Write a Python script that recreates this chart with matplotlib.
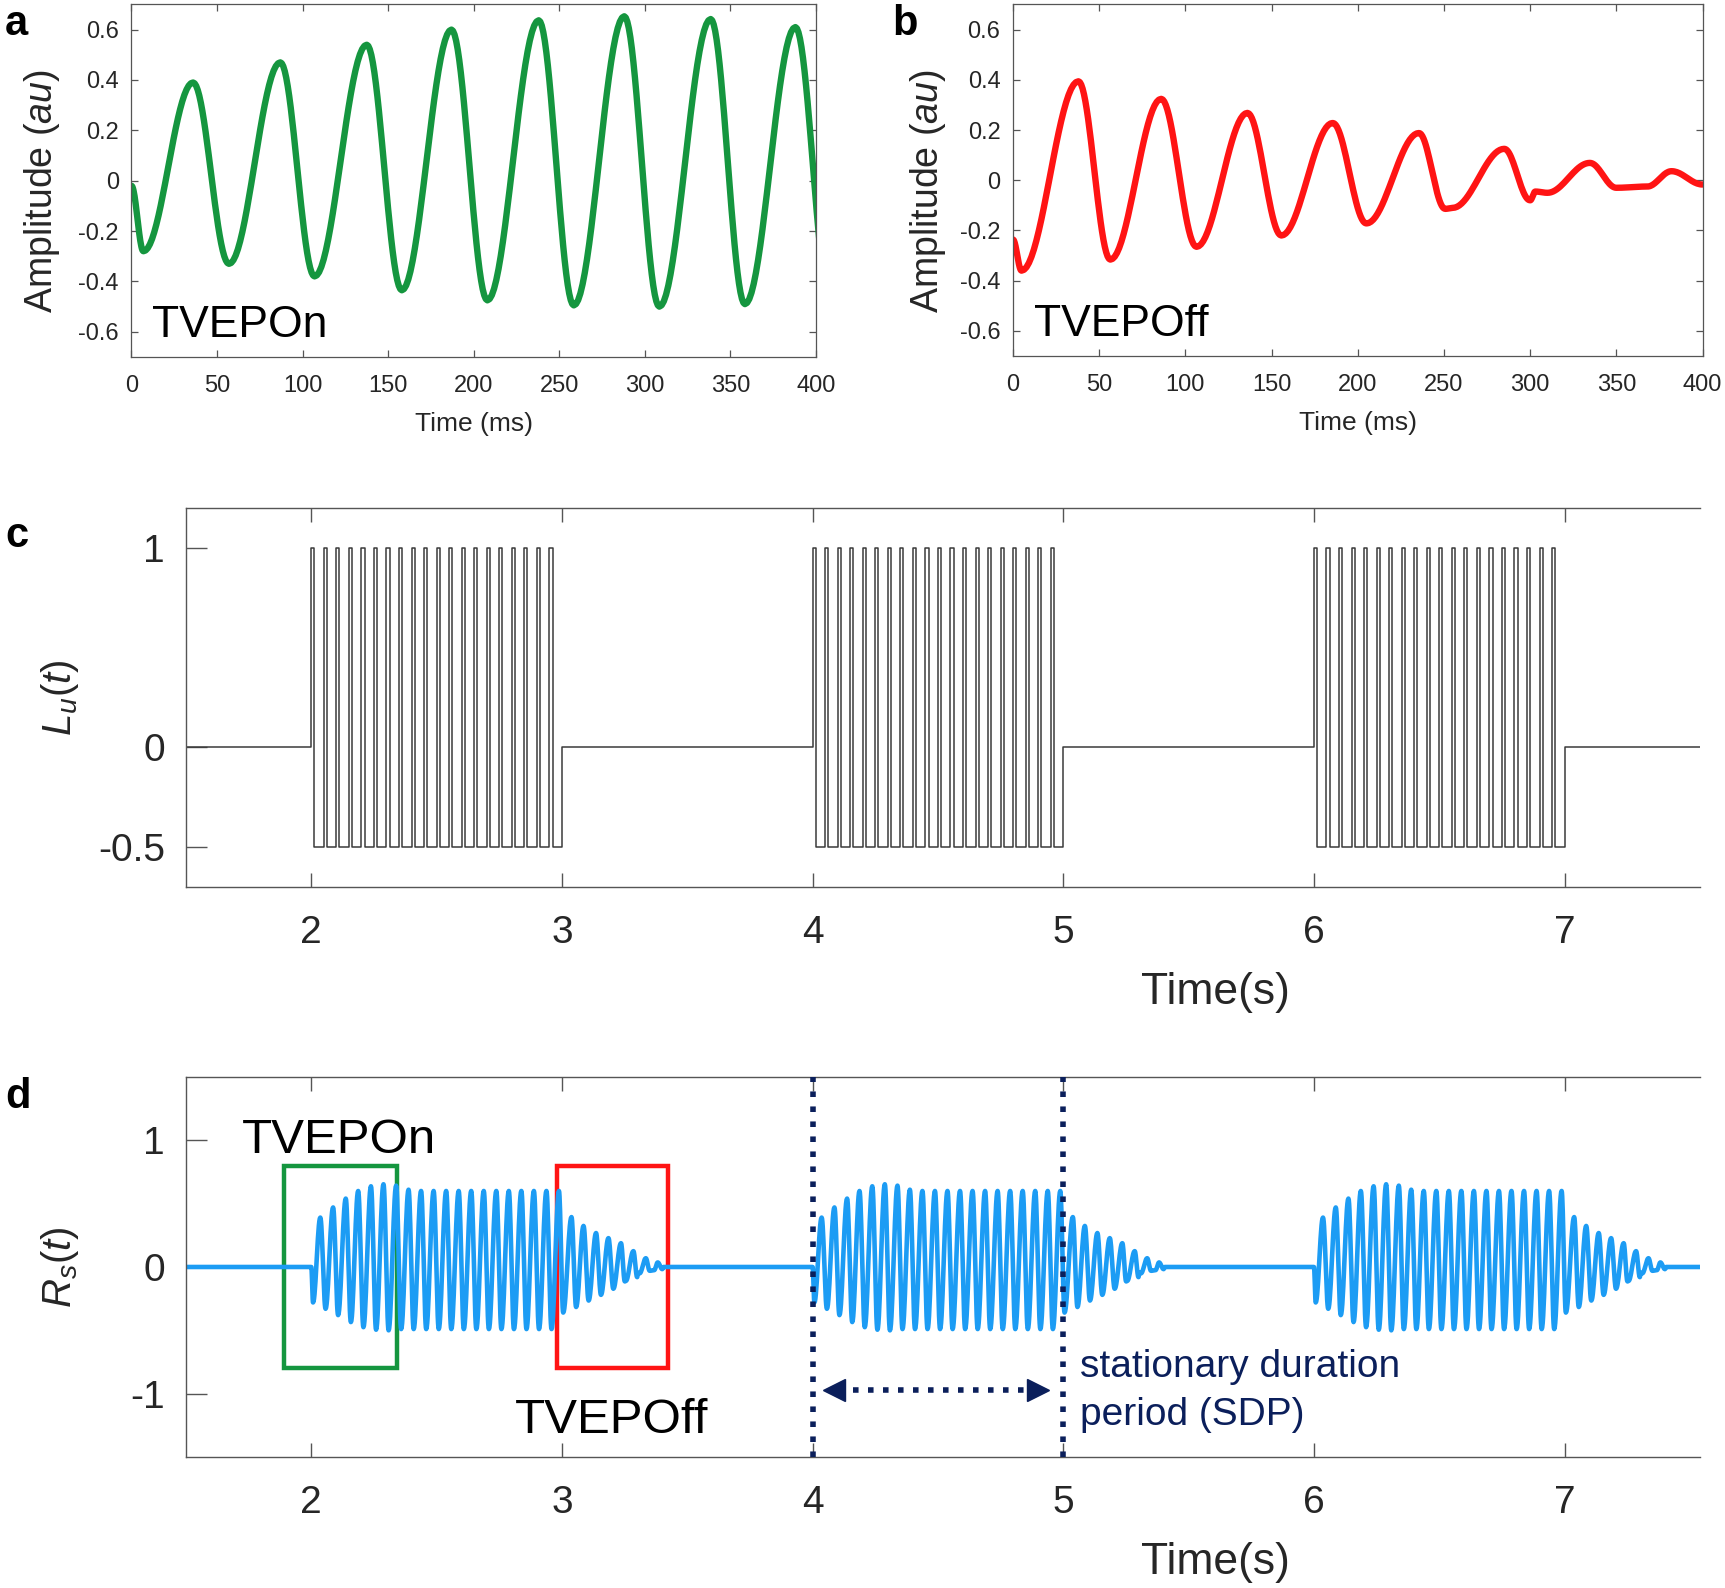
import numpy as np
import matplotlib
matplotlib.use("Agg")
import matplotlib.pyplot as plt
from matplotlib.patches import Rectangle

plt.rcParams["font.family"] = ["Liberation Sans", "DejaVu Sans"]
plt.rcParams["axes.unicode_minus"] = False
plt.rcParams["mathtext.fontset"] = "custom"
plt.rcParams["mathtext.rm"] = "Liberation Sans"
plt.rcParams["mathtext.it"] = "Liberation Sans:italic"

# ---- data ----
# TVEPOn: extrema (ms after flicker onset) and amplitudes
ON_T_MS = [0, 7, 36, 57, 87, 107, 137.5, 158, 187, 208, 238, 258.5, 288, 308.5, 338.5, 358.5, 388]
ON_AMP = [-0.02, -0.28, 0.39, -0.33, 0.47, -0.38, 0.54, -0.435, 0.60, -0.475, 0.637, -0.495, 0.653, -0.50, 0.642, -0.49, 0.61]

# stationary part of the response (ms after flicker onset)
STEADY_T_MS = [408.5, 438, 458.5, 488, 508.5, 538, 558.5, 588, 608.5, 638, 658.5, 688,
               708.5, 738, 758.5, 788, 808.5, 838, 858.5, 888, 908.5, 938, 958.5, 988]
STEADY_AMP = [-0.49, 0.60, -0.49, 0.60, -0.49, 0.60, -0.49, 0.60, -0.49, 0.60, -0.49, 0.60,
              -0.49, 0.60, -0.49, 0.60, -0.49, 0.60, -0.49, 0.60, -0.49, 0.60, -0.49, 0.60]

# TVEPOff: extrema (ms after flicker offset) and amplitudes
OFF_T_MS = [0, 5, 38, 56.5, 86, 106.5, 136, 155.7, 185.5, 205, 235.5, 250.7, 255, 285,
            300, 303, 310, 334.6, 350, 368, 382, 400]
OFF_AMP = [-0.236, -0.36, 0.394, -0.316, 0.324, -0.265, 0.268, -0.22, 0.228, -0.172, 0.188,
           -0.114, -0.11, 0.125, -0.08, -0.045, -0.05, 0.069, -0.03, -0.025, 0.036, -0.017]

# flicker stimulus
BLOCK_STARTS = [2, 4, 6]
BLOCK_DUR = 1.0
FLICKER_HZ = 20
HIGH_FRACTION = 0.25
LEVEL_HIGH, LEVEL_LOW, LEVEL_REST = 1.0, -0.5, 0.0
T_RANGE = (1.5, 7.54)

GREEN = "#15963F"
RED = "#FF1414"
BLUE = "#1C9CF4"
NAVY = "#0B1F5B"
GRAY = "#262626"
SPINE = "#555555"


def cosine_path(t, v, n=24):
    """Join successive extrema with half-cosine arcs."""
    xs, ys = [t[0]], [v[0]]
    u = np.linspace(0, 1, n)[1:]
    for i in range(len(t) - 1):
        xs.extend(t[i] + (t[i + 1] - t[i]) * u)
        ys.extend(v[i] + (v[i + 1] - v[i]) * (1 - np.cos(np.pi * u)) / 2)
    return np.array(xs), np.array(ys)


fig = plt.figure(figsize=(17.25, 15.88), dpi=100)

ax_a = fig.add_axes([0.0762, 0.7752, 0.3968, 0.2220])
ax_b = fig.add_axes([0.5872, 0.7758, 0.3998, 0.2214])
ax_c = fig.add_axes([0.1078, 0.4414, 0.8777, 0.2387])
ax_d = fig.add_axes([0.1078, 0.0825, 0.8777, 0.2393])

# ---- panels a, b ----
ya_ticks = [-0.6, -0.4, -0.2, 0, 0.2, 0.4, 0.6]
ya_labels = ["-0.6", "-0.4", "-0.2", "0", "0.2", "0.4", "0.6"]
x_ms_ticks = [0, 50, 100, 150, 200, 250, 300, 350, 400]

ta, va = cosine_path(ON_T_MS + STEADY_T_MS[:1], ON_AMP + STEADY_AMP[:1])
ax_a.plot(ta, va, color=GREEN, lw=4.6, solid_capstyle="round")
tb, vb = cosine_path(OFF_T_MS, OFF_AMP)
ax_b.plot(tb, vb, color=RED, lw=4.6, solid_capstyle="round")

for ax, name in [(ax_a, "TVEPOn"), (ax_b, "TVEPOff")]:
    ax.set_xlim(0, 400)
    ax.set_ylim(-0.7, 0.7)
    ax.set_xticks(x_ms_ticks)
    ax.set_yticks(ya_ticks)
    ax.set_yticklabels(ya_labels)
    ax.tick_params(direction="in", length=5, width=0.9, color=SPINE, labelsize=17,
                   labelcolor=GRAY, top=True, right=True)
    ax.tick_params(axis="x", pad=13)
    ax.tick_params(axis="y", pad=9)
    for sp in ax.spines.values():
        sp.set_color(SPINE)
        sp.set_linewidth(0.9)
    ax.set_xlabel("Time (ms)", fontsize=19, color=GRAY)
    ax.xaxis.set_label_coords(0.5, -0.155)
    ax.set_ylabel(r"Amplitude ($\mathit{au}$)", fontsize=27, color=GRAY)
    ax.text(12, -0.62, name, fontsize=32, color="black", va="baseline")

ax_a.yaxis.set_label_coords(-0.101, 0.47)
ax_b.yaxis.set_label_coords(-0.094, 0.47)

# ---- panel c: flicker stimulus ----
period = 1.0 / FLICKER_HZ
n_cycles = int(round(BLOCK_DUR * FLICKER_HZ))
stim_t, stim_v = [T_RANGE[0]], [LEVEL_REST]
for s in BLOCK_STARTS:
    stim_t.append(s)
    stim_v.append(LEVEL_REST)
    for k in range(n_cycles):
        a = s + k * period
        b = a + period * HIGH_FRACTION
        c = a + period
        stim_t += [a, b, b, c]
        stim_v += [LEVEL_HIGH, LEVEL_HIGH, LEVEL_LOW, LEVEL_LOW]
    stim_t.append(s + BLOCK_DUR)
    stim_v.append(LEVEL_REST)
stim_t.append(T_RANGE[1])
stim_v.append(LEVEL_REST)
ax_c.plot(stim_t, stim_v, color="#3a3a3a", lw=1.1)
ax_c.set_ylim(-0.7, 1.2)
ax_c.set_yticks([-0.5, 0, 1])
ax_c.set_yticklabels(["-0.5", "0", "1"])
ax_c.set_ylabel(r"$L_u(t)$", fontsize=29, color=GRAY)
ax_c.yaxis.set_label_coords(-0.069, 0.5)

# ---- panel d: response ----
resp_t, resp_v = [T_RANGE[0]], [0.0]
for s in BLOCK_STARTS:
    resp_t.append(s)
    resp_v.append(0.0)
    resp_t += [s + t / 1000 for t in ON_T_MS[1:] + STEADY_T_MS]
    resp_v += ON_AMP[1:] + STEADY_AMP
    resp_t += [s + BLOCK_DUR + t / 1000 for t in OFF_T_MS[1:]]
    resp_v += OFF_AMP[1:]
    resp_t.append(s + BLOCK_DUR + 0.405)
    resp_v.append(0.0)
resp_t.append(T_RANGE[1])
resp_v.append(0.0)
td, vd = cosine_path(resp_t, resp_v, n=16)
ax_d.plot(td, vd, color=BLUE, lw=3.3)
ax_d.set_ylim(-1.5, 1.5)
ax_d.set_yticks([-1, 0, 1])
ax_d.set_yticklabels(["-1", "0", "1"])
ax_d.set_ylabel(r"$R_s(t)$", fontsize=29, color=GRAY)
ax_d.yaxis.set_label_coords(-0.069, 0.5)

ax_d.add_patch(Rectangle((1.89, -0.8), 0.45, 1.6, fill=False, ec=GREEN, lw=3.2))
ax_d.add_patch(Rectangle((2.982, -0.8), 0.443, 1.6, fill=False, ec=RED, lw=3.2))
ax_d.text(1.725, 0.90, "TVEPOn", fontsize=35.5, color="black", va="baseline")
ax_d.text(2.814, -1.31, "TVEPOff", fontsize=35.5, color="black", va="baseline")

for x in [4, 5]:
    ax_d.axvline(x, color=NAVY, lw=4, linestyle=(0, (1, 1.7)), zorder=4)
ax_d.plot([4.1, 4.88], [-0.97, -0.97], color=NAVY, lw=4, linestyle=(0, (1, 1.7)))
ax_d.plot([4.085], [-0.97], marker="<", ms=16, color=NAVY, mec=NAVY)
ax_d.plot([4.9], [-0.97], marker=">", ms=16, color=NAVY, mec=NAVY)
ax_d.text(5.067, -0.87, "stationary duration", fontsize=28, color=NAVY, va="baseline")
ax_d.text(5.067, -1.25, "period (SDP)", fontsize=28, color=NAVY, va="baseline")

for ax in [ax_c, ax_d]:
    ax.set_xlim(*T_RANGE)
    ax.set_xticks([2, 3, 4, 5, 6, 7])
    ax.tick_params(direction="in", color=SPINE, labelsize=28, labelcolor=GRAY,
                   top=True, right=False)
    ax.tick_params(axis="x", length=10, width=1.0, pad=20)
    ax.tick_params(axis="y", length=15, width=1.0, pad=15)
    ax.spines["right"].set_visible(False)
    for sp in ["left", "top", "bottom"]:
        ax.spines[sp].set_color(SPINE)
        ax.spines[sp].set_linewidth(1.0)
    ax.set_xlabel("Time(s)", fontsize=32, color=GRAY)
    ax.xaxis.set_label_coords(0.68, -0.225)

# panel letters
for x, y, s in [(0.003, 0.978, "a"), (0.517, 0.978, "b"), (0.003, 0.6556, "c"), (0.003, 0.302, "d")]:
    fig.text(x, y, s, fontsize=30, fontweight="bold", va="baseline")

fig.savefig("out.png", dpi=100)
